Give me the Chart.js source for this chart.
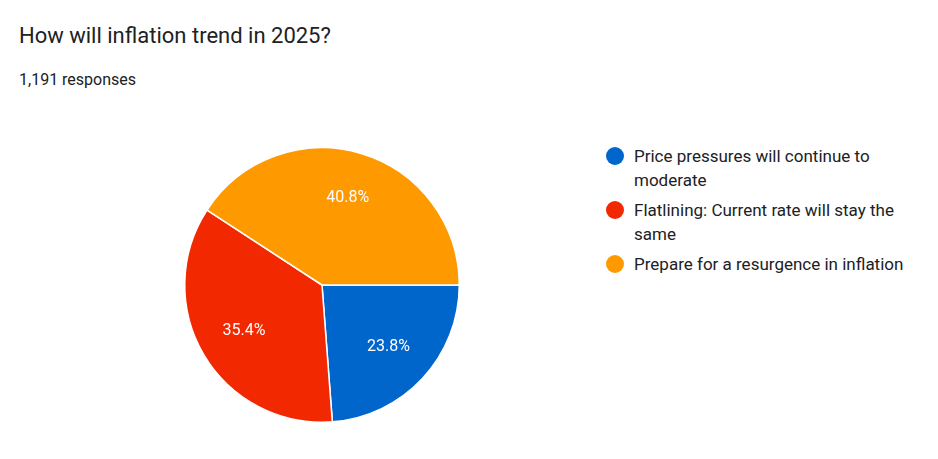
<!DOCTYPE html>
<html><head><meta charset="utf-8">
<script src="https://cdn.jsdelivr.net/npm/chart.js@4"></script>
<style>
body{margin:0;width:938px;height:459px;background:#fff;font-family:Roboto,Arial,sans-serif;color:#202124;position:relative;overflow:hidden}
#t{position:absolute;left:19px;top:23px;font-size:22px}
#r{position:absolute;left:19px;top:70px;font-size:16px;color:#202124}
#c{position:absolute;left:172px;top:135px}
#lg{position:absolute;left:606px;top:144px;font-size:17px;line-height:24px;width:300px}
.it{position:relative;padding-left:28px;margin-bottom:6px}
.dot{position:absolute;left:0;top:3px;width:18px;height:18px;border-radius:50%}
</style></head><body>
<div id="t">How will inflation trend in 2025?</div>
<div id="r">1,191 responses</div>
<canvas id="c" width="300" height="300"></canvas>
<div id="lg"></div>
<script>
const categories=["Price pressures will continue to moderate","Flatlining: Current rate will stay the same","Prepare for a resurgence in inflation"];
const values=[23.8,35.4,40.8];
const colors=["#0066cc","#f22800","#ff9900"];
const lg=document.getElementById('lg');
categories.forEach((c,i)=>{lg.innerHTML+=`<div class="it"><span class="dot" style="background:${colors[i]}"></span>${c}</div>`;});
const labelPlugin={id:'lbl',afterDatasetsDraw(ch){const ctx=ch.ctx;const meta=ch.getDatasetMeta(0);ctx.save();ctx.font='16px Roboto, Arial';ctx.fillStyle='#fff';ctx.textAlign='center';ctx.textBaseline='middle';
meta.data.forEach((a,i)=>{const m=(a.startAngle+a.endAngle)/2;const r=a.outerRadius*0.66;ctx.fillText(values[i].toFixed(1)+'%',a.x+Math.cos(m)*r,a.y+Math.sin(m)*r);});ctx.restore();}};
new Chart(document.getElementById('c'),{type:'pie',data:{labels:categories,datasets:[{data:values,backgroundColor:colors,borderColor:'#fff',borderWidth:1.5}]},
options:{responsive:false,animation:false,rotation:90,layout:{padding:12},plugins:{legend:{display:false},tooltip:{enabled:false}}},plugins:[labelPlugin]});
</script></body></html>
